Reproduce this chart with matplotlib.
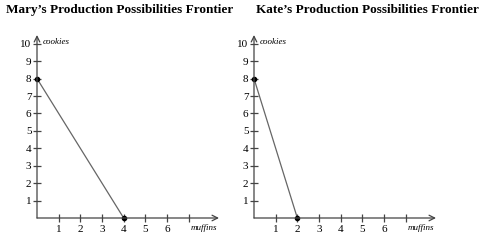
import matplotlib.pyplot as plt

titles = ["Mary\u2019s Production Possibilities Frontier",
          "Kate\u2019s Production Possibilities Frontier"]
cookies_max = [8, 8]
muffins_max = [4, 2]
x_ticks = [1, 2, 3, 4, 5, 6, 7]
x_labels = ["1", "2", "3", "4", "5", "6", ""]
y_ticks = [1, 2, 3, 4, 5, 6, 7, 8, 9, 10]

plt.rcParams['font.family'] = ['Liberation Serif', 'DejaVu Serif']

fig = plt.figure(figsize=(4.84, 2.41), dpi=100)

lefts = [37 / 484, 254 / 484]
title_x = [120 / 484, 367 / 484]

for i in range(2):
    ax = fig.add_axes([lefts[i], 23 / 241, 182 / 484, 183 / 241])
    ax.set_xlim(0, 8.4)
    ax.set_ylim(0, 10.5)
    for s in ax.spines.values():
        s.set_visible(False)
    ax.annotate("", xy=(8.4, 0), xytext=(0, 0),
                arrowprops=dict(arrowstyle="->", color="#444", lw=0.9,
                                shrinkA=0, shrinkB=0), annotation_clip=False)
    ax.annotate("", xy=(0, 10.5), xytext=(0, 0),
                arrowprops=dict(arrowstyle="->", color="#444", lw=0.9,
                                shrinkA=0, shrinkB=0), annotation_clip=False)
    ax.set_xticks(x_ticks)
    ax.set_xticklabels(x_labels)
    ax.set_yticks(y_ticks)
    ax.tick_params(direction="inout", length=6, width=0.9, color="#444",
                   labelsize=8, pad=1)
    ax.tick_params(axis="x", pad=2)
    ax.plot([0, muffins_max[i]], [cookies_max[i], 0], color="#666", lw=0.9,
            clip_on=False)
    ax.plot([0, muffins_max[i]], [cookies_max[i], 0], "o", color="black",
            ms=3, clip_on=False)
    ax.text(0.25, 10.1, "cookies", fontsize=6.5, style="italic",
            va="center", ha="left")
    ax.text(8.3, -0.55, "muffins", fontsize=6.5, style="italic",
            va="center", ha="right")
    fig.text(title_x[i], 1 - 10 / 241, titles[i], fontsize=9.5,
             fontweight="bold", ha="center", va="center")

fig.savefig("out.png", dpi=100)
